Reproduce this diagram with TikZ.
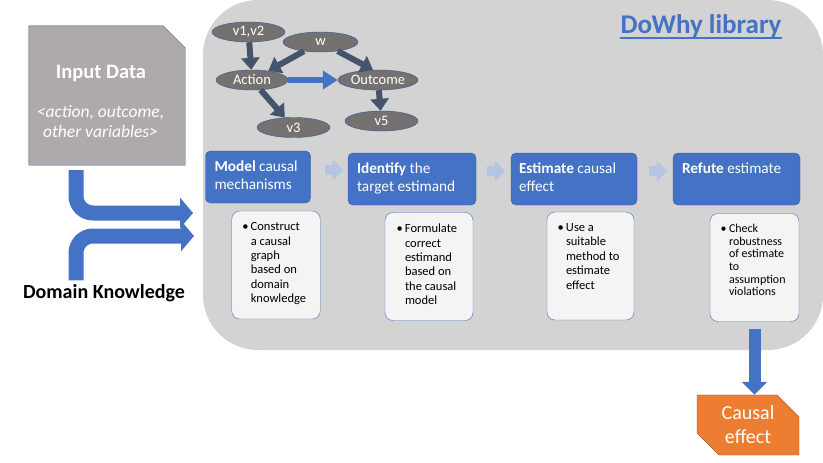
\documentclass[tikz,border=0pt]{standalone}
\usepackage{fontspec}
\setmainfont{Carlito}
\usetikzlibrary{positioning, shapes.geometric, shapes.misc, shapes.arrows, arrows.meta}
\definecolor{libgray}{HTML}{D3D3D3}
\definecolor{datagray}{HTML}{AEAAAA}
\definecolor{msblue}{HTML}{4472C4}
\definecolor{darkblue}{HTML}{2F5597}
\definecolor{slate}{HTML}{44546A}
\definecolor{nodegray}{HTML}{767171}
\definecolor{chevblue}{HTML}{B4C5E4}
\definecolor{boxwhite}{HTML}{F4F4F4}
\definecolor{msorange}{HTML}{ED7D31}
\definecolor{darkorange}{HTML}{B55D22}
\newcommand{\bul}{\makebox[8.5pt][l]{\textbullet}}
\newcommand{\ind}{\hspace*{8.5pt}}
\tikzset{
    x=1pt, y=-1pt,
    var/.style={ellipse, fill=nodegray, draw=darkblue, thin, text=white, minimum width=73pt, minimum height=20pt, inner sep=0pt, font=\fontsize{14.5}{16}\selectfont},
    dep/.style={-{Triangle[width=18pt,length=12pt]}, line width=6pt, draw=slate},
    stage/.style={rectangle, rounded corners=5pt, fill=msblue, draw=msblue!80!black, thin, minimum height=52pt},
    stagetext/.style={anchor=north west, inner sep=0pt, align=left, text=white, font=\fontsize{15.3}{17.5}\selectfont},
    detail/.style={rectangle, rounded corners=8pt, fill=boxwhite, draw=msblue, thin, minimum height=108pt},
    detailtext/.style={anchor=north west, inner sep=0pt, align=left, font=\fontsize{12.5}{14.4}\selectfont},
    chev/.style={single arrow, fill=chevblue, minimum height=18pt, inner sep=5pt, single arrow head extend=5pt},
    fat/.style={-{Triangle[width=30pt,length=13pt]}, line width=15pt, draw=msblue, rounded corners=17pt}
}

\begin{document}
\begin{tikzpicture}
    \useasboundingbox (0,0) rectangle (823,463);
    \fill[libgray, rounded corners=55pt] (203,0) rectangle (823,350);

    % input data and domain knowledge
    \node[minimum width=156pt, minimum height=139pt, inner sep=0pt] (data) at (107,95.5) {};
    \filldraw[fill=datagray, draw=darkblue, thin] (data.south west) -- (data.north west) -- ([xshift=-22pt]data.north east)
        -- ([yshift=-22pt]data.north east) -- (data.south east) -- cycle;
    \node[text=white, font=\bfseries\fontsize{20.5}{24}\selectfont, anchor=base] (dtitle) at (101,78) {Input Data};
    \node[text=white, font=\itshape\fontsize{17.5}{20.5}\selectfont, align=center, anchor=north, inner sep=0pt] (dvars) at (100.5,105) {<action, outcome,\\other variables>};
    \node[font=\bfseries\fontsize{20}{24}\selectfont, anchor=base] (dk) at (104,298) {Domain Knowledge};
    \coordinate (in1) at (193,213);
    \coordinate (in2) at (194,236);
    \draw[fat] ([xshift=-31pt,yshift=-5pt]data.south) |- (in1);
    \draw[fat] ([xshift=-28pt]dk.north) |- (in2);

    % library title
    \node[text=msblue, font=\bfseries\fontsize{27}{30}\selectfont, anchor=base, inner sep=0pt] (lib) at (701,33) {DoWhy library};
    \draw[msblue, line width=1.6pt] ([yshift=-5pt]lib.base west) -- ([yshift=-5pt]lib.base east);

    % causal graph
    \node[var] (v12) at (248.5,32) {v1,v2};
    \node[var, minimum width=75pt] (w) at (320.5,42) {w};
    \node[var, minimum width=72pt] (act) at (252,80) {Action};
    \node[var, minimum width=80pt] (out) at (378,80) {Outcome};
    \node[var] (v3) at (293.5,127.5) {v3};
    \node[var] (v5) at (381.5,121) {v5};
    \draw[dep] (v12) -- (act);
    \draw[dep] (w) -- (act);
    \draw[dep] (w) -- ([xshift=-5pt]out.north);
    \draw[dep, draw=msblue, -{Triangle[width=18pt,length=15pt]}] (act) -- (out);
    \draw[dep] (act) -- (v3);
    \draw[dep] (out) -- (v5);

    % four stages
    \node[stage, minimum width=105pt] (s1) at (258,177) {};
    \node[stage, minimum width=128pt] (s2) at (412,179) {};
    \node[stage, minimum width=126pt] (s3) at (574,179) {};
    \node[stage, minimum width=127pt] (s4) at (736.5,179) {};
    \node[stagetext] (s1t) at ([shift={(9pt,-10pt)}]s1.north west) {\textbf{Model} causal\\mechanisms};
    \node[stagetext] (s2t) at ([shift={(9pt,-10pt)}]s2.north west) {\textbf{Identify} the\\target estimand};
    \node[stagetext] (s3t) at ([shift={(8pt,-10pt)}]s3.north west) {\textbf{Estimate} causal\\effect};
    \node[stagetext] (s4t) at ([shift={(9pt,-10pt)}]s4.north west) {\textbf{Refute} estimate};
    \node[chev] (c1) at (331.5,170) {};
    \node[chev] (c2) at (493.5,171) {};
    \node[chev] (c3) at (655.5,171) {};

    % details
    \node[detail, minimum width=88.5pt] (d1) at (276,265) {};
    \node[detail, minimum width=88pt] (d2) at (429,266.5) {};
    \node[detail, minimum width=87pt] (d3) at (590.5,266) {};
    \node[detail, minimum width=89pt] (d4) at (754.5,267.5) {};
    \node[detailtext] (d1t) at ([shift={(10.5pt,-11.5pt)}]d1.north west)
        {\bul Construct\\\ind a causal\\\ind graph\\\ind based on\\\ind domain\\\ind knowledge};
    \node[detailtext] (d2t) at ([shift={(11.5pt,-11.5pt)}]d2.north west)
        {\bul Formulate\\\ind correct\\\ind estimand\\\ind based on\\\ind the causal\\\ind model};
    \node[detailtext] (d3t) at ([shift={(10.5pt,-11.5pt)}]d3.north west)
        {\bul Use a\\\ind suitable\\\ind method to\\\ind estimate\\\ind effect};
    \node[detailtext, font=\fontsize{12}{12.7}\selectfont] (d4t) at ([shift={(10.5pt,-10.5pt)}]d4.north west)
        {\bul Check\\\ind robustness\\\ind of estimate\\\ind to\\\ind assumption\\\ind violations};

    % result
    \node[chamfered rectangle, chamfered rectangle corners={north east, south west}, chamfered rectangle xsep=11pt, chamfered rectangle ysep=11pt,
        fill=msorange, draw=darkorange, minimum width=102pt, minimum height=58pt, inner sep=0pt,
        text=white, align=center, font=\fontsize{20}{24}\selectfont] (res) at (748,425) {Causal\\effect};
    \draw[fat, line width=12pt, -{Triangle[width=25pt,length=13pt]}] ([yshift=-7pt]d4.south) -- (d4.south |- res.north);
\end{tikzpicture}
\end{document}
